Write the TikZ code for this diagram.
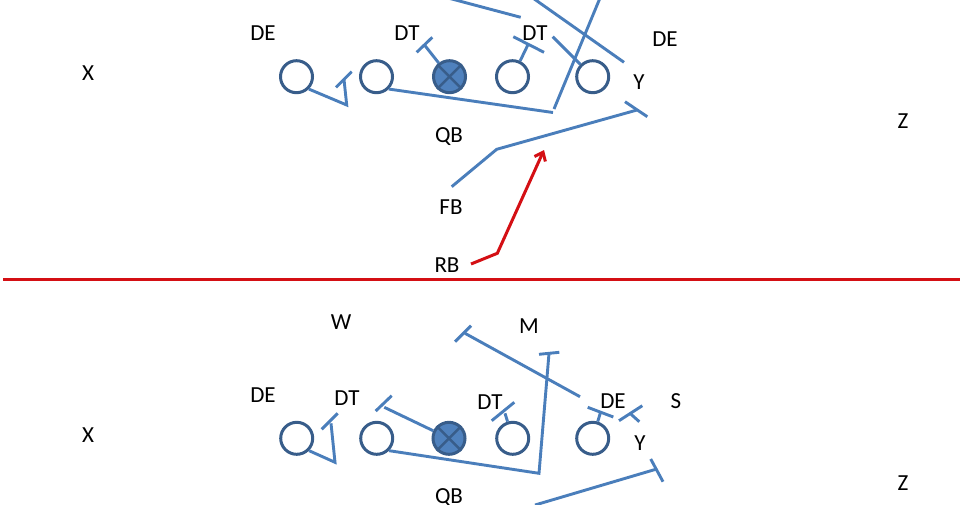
\documentclass[tikz,border=0pt]{standalone}
\usepackage{fontspec}
\setmainfont{Carlito}
\usetikzlibrary{arrows.meta}

\definecolor{routeblue}{HTML}{4A7EBB}
\definecolor{lineblue}{HTML}{385D8A}
\definecolor{fillblue}{HTML}{4F81BD}
\definecolor{playred}{HTML}{D40F14}

\tikzset{
    player/.style={circle, draw=lineblue, line width=3pt, minimum size=32pt, inner sep=0pt, fill=white},
    center/.style={player, fill=fillblue},
    route/.style={draw=routeblue, line width=2.9pt},
    hotroute/.style={draw=playred, line width=3pt},
    tag/.style={inner sep=0pt, yshift=-0.8pt, font=\fontsize{23}{23}\selectfont}
}

\begin{document}
\begin{tikzpicture}[x=1pt,y=-1pt]
        \clip (0,0) rectangle (960,504);
        \fill[white] (0,0) rectangle (960,504);

        \coordinate (divL) at (3,279.5);
        \coordinate (divR) at (960,279.5);
        \draw[hotroute] (divL) -- (divR);

        \node[player] (te1) at (296.5,76.7) {};
        \node[player] (tg1) at (376.5,76.7) {};
        \node[center] (tc) at (449.5,76.7) {};
        \node[player] (tg2) at (512.5,76.7) {};
        \node[player] (tt2) at (592.7,76.7) {};

        \node[tag] (tDEa) at (263,32) {DE};
        \node[tag] (tDTa) at (407,32) {DT};
        \node[tag] (tDTb) at (535,32) {DT};
        \node[tag] (tDEb) at (665,38) {DE};
        \node[tag] (tX) at (88,72) {X};
        \node[tag] (tY) at (639,81) {Y};
        \node[tag] (tQB) at (449,136) {QB};
        \node[tag] (tZ) at (903,120) {Z};
        \node[tag] (tFB) at (451,206) {FB};
        \node[tag] (tRB) at (447,264) {RB};

        \draw[lineblue, line width=2.5pt] (tc.north west) -- (tc.south east);
        \draw[lineblue, line width=2.5pt] (tc.north east) -- (tc.south west);

        \coordinate (a1) at (346.7,105);
        \coordinate (a2) at (344,79.5);
        \coordinate (a3) at (336,87.3);
        \coordinate (a4) at (351.7,71.7);
        \draw[route] (te1.south east) -- (a1) -- (a2);
        \draw[route] (a3) -- (a4);

        \coordinate (b1) at (553,112.5);
        \coordinate (b2) at (600,-2);
        \coordinate (b3) at (554,109);
        \draw[route] (tg1.south east) -- (b1);
        \draw[route] (b3) -- (b2);

        \coordinate (c1) at (424.5,45);
        \coordinate (c2) at (416.7,52.3);
        \coordinate (c3) at (432.3,37.3);
        \draw[route] (tc) -- (c1);
        \draw[route] (c2) -- (c3);

        \coordinate (d1) at (450,-1.5);
        \coordinate (d2) at (520.7,17.3);
        \draw[route] (d1) -- (d2);

        \coordinate (e1) at (528.3,44);
        \coordinate (e2) at (513.3,36.7);
        \coordinate (e3) at (544,52.3);
        \draw[route] (tg2) -- (e1);
        \draw[route] (e2) -- (e3);

        \coordinate (f1) at (552.7,36.7);
        \draw[route] (tt2) -- (f1);

        \coordinate (g1) at (530,-4);
        \coordinate (g2) at (624,62.3);
        \draw[route] (g1) -- (g2);

        \coordinate (h1) at (451.7,186.7);
        \coordinate (h2) at (496.7,149.3);
        \coordinate (h3) at (637,110);
        \coordinate (h4) at (625,101.7);
        \coordinate (h5) at (647.3,116.7);
        \draw[route] (h1) -- (h2) -- (h3);
        \draw[route] (h4) -- (h5);

        \coordinate (r1) at (471,264);
        \coordinate (r2) at (497.3,253.3);
        \coordinate (r3) at (544,150);
        \draw[hotroute, -{Straight Barb[length=7.5pt,width=12pt]}] (r1) -- (r2) -- (r3);

        \node[player] (be1) at (296.7,438.3) {};
        \node[player] (bg1) at (376.7,438.3) {};
        \node[center] (bc) at (449,438.3) {};
        \node[player] (bg2) at (512.7,438.3) {};
        \node[player] (bt2) at (592.7,438.3) {};

        \node[tag] (bW) at (341,321) {W};
        \node[tag] (bM) at (529,325) {M};
        \node[tag] (bDEa) at (263,394) {DE};
        \node[tag] (bDTa) at (347,397) {DT};
        \node[tag] (bDTb) at (490,401) {DT};
        \node[tag] (bDEb) at (613,400) {DE};
        \node[tag] (bS) at (676,400) {S};
        \node[tag] (bY) at (640,442) {Y};
        \node[tag] (bX) at (88,434) {X};
        \node[tag] (bZ) at (903,482) {Z};
        \node[tag] (bQB) at (449,497) {QB};

        \draw[lineblue, line width=2.5pt] (bc.north west) -- (bc.south east);
        \draw[lineblue, line width=2.5pt] (bc.north east) -- (bc.south west);

        \coordinate (k1) at (335,462.3);
        \coordinate (k2) at (331,423.3);
        \coordinate (k3) at (321.7,429.3);
        \coordinate (k4) at (337.7,413.3);
        \draw[route] (be1.south east) -- (k1) -- (k2);
        \draw[route] (k3) -- (k4);

        \coordinate (l1) at (539,473.3);
        \coordinate (l2) at (549,353.3);
        \coordinate (l3) at (539,354.3);
        \coordinate (l4) at (559.3,352.3);
        \draw[route] (bg1.south east) -- (l1) -- (l2);
        \draw[route] (l3) -- (l4);

        \coordinate (m1) at (384.3,407.3);
        \coordinate (m2) at (375.7,411);
        \coordinate (m3) at (391.7,395.7);
        \draw[route] (bc) -- (m1);
        \draw[route] (m2) -- (m3);

        \coordinate (n1) at (465,333.3);
        \coordinate (n2) at (580,396.7);
        \coordinate (n3) at (455,341.7);
        \coordinate (n4) at (471,325.7);
        \draw[route] (n1) -- (n2);
        \draw[route] (n3) -- (n4);

        \coordinate (o1) at (505,413.3);
        \coordinate (o2) at (491.7,420.7);
        \coordinate (o3) at (514.3,402.3);
        \draw[route] (bg2) -- (o1);
        \draw[route] (o2) -- (o3);

        \coordinate (p1) at (600.7,411.7);
        \coordinate (p2) at (587.7,407.3);
        \coordinate (p3) at (613.3,417);
        \draw[route] (bt2) -- (p1);
        \draw[route] (p2) -- (p3);

        \coordinate (q1) at (619,420.7);
        \coordinate (q2) at (642.3,405.7);
        \coordinate (q3) at (630,413.3);
        \coordinate (q4) at (639.3,421.7);
        \draw[route] (q1) -- (q2);
        \draw[route] (q3) -- (q4);

        \coordinate (s1) at (535,505);
        \coordinate (s2) at (655.7,469.3);
        \coordinate (s3) at (650.7,459);
        \coordinate (s4) at (663,481.7);
        \draw[route] (s1) -- (s2);
        \draw[route] (s3) -- (s4);
\end{tikzpicture}
\end{document}
